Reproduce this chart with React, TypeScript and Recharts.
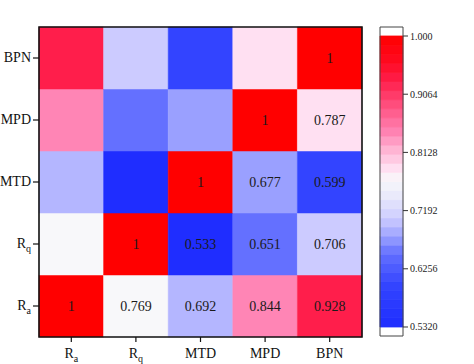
import React from 'react';
import { ScatterChart, Scatter, XAxis, YAxis, ReferenceArea } from 'recharts';

// Variables (bottom-to-top on Y, left-to-right on X)
const varMain = ['R', 'R', 'MTD', 'MPD', 'BPN'];
const varSub = ['a', 'q', '', '', ''];

// Correlation matrix rows (row index = Y position from bottom)
const rowRa = [1, 0.769, 0.692, 0.844, 0.928];
const rowRq = [0.769, 1, 0.533, 0.651, 0.706];
const rowMTD = [0.692, 0.533, 1, 0.677, 0.599];
const rowMPD = [0.844, 0.651, 0.677, 1, 0.787];
const rowBPN = [0.928, 0.706, 0.599, 0.787, 1];
const matrix = [rowRa, rowRq, rowMTD, rowMPD, rowBPN];

// Colour bar
const cbMin = 0.532;
const cbMax = 1.0;
const cbBandCount = 32;
const cbTicks = [0.532, 0.6256, 0.7192, 0.8128, 0.9064, 1.0];
const cbTickLabels = ['0.5320', '0.6256', '0.7192', '0.8128', '0.9064', '1.000'];

// colormap anchors (style)
const cmapStops: [number, string][] = [
  [0.532, '#1f2dff'],
  [0.57, '#2a3aff'],
  [0.599, '#3344ff'],
  [0.651, '#6470ff'],
  [0.677, '#9aa0ff'],
  [0.706, '#cccbff'],
  [0.74, '#e8e8fb'],
  [0.769, '#f8f8fa'],
  [0.787, '#ffe0f2'],
  [0.82, '#ffb0d0'],
  [0.844, '#ff85b5'],
  [0.88, '#ff5a8a'],
  [0.928, '#ff1e4b'],
  [0.96, '#ff0a20'],
  [1.0, '#ff0000'],
];

const hex = (c: string) => [1, 3, 5].map((i) => parseInt(c.slice(i, i + 2), 16));
const cmap = (v: number) => {
  if (v <= cmapStops[0][0]) return cmapStops[0][1];
  for (let i = 1; i < cmapStops.length; i++) {
    const [v1, c1] = cmapStops[i];
    const [v0, c0] = cmapStops[i - 1];
    if (v <= v1) {
      const t = (v - v0) / (v1 - v0);
      const a = hex(c0), b = hex(c1);
      const m = a.map((x, k) => Math.round(x + (b[k] - x) * t));
      return `rgb(${m[0]},${m[1]},${m[2]})`;
    }
  }
  return cmapStops[cmapStops.length - 1][1];
};

const FONT = '"Liberation Serif", "Times New Roman", serif';

const cells = matrix.flatMap((row, r) => row.map((v, c) => ({ r, c, v })));
const labelPoints = cells
  .filter((d) => d.c >= d.r)
  .map((d) => ({ x: d.c + 0.5, y: d.r + 0.5, v: d.v }));

const bandStep = (cbMax - cbMin) / cbBandCount;
const bands = Array.from({ length: cbBandCount }, (_, i) => {
  const lo = cbMin + bandStep * i;
  const hi = cbMin + bandStep * (i + 1);
  return { lo, hi, color: cmap((lo + hi) / 2), x: 0.5, y: (lo + hi) / 2 };
});

const centers = [0.5, 1.5, 2.5, 3.5, 4.5];

const XTick = (props: any) => {
  const { x, y, payload } = props;
  const i = Math.round(payload.value - 0.5);
  return (
    <text x={x} y={y + 14} textAnchor="middle" fontFamily={FONT} fontSize={14} fill="#111">
      <tspan>{varMain[i]}</tspan>
      {varSub[i] ? <tspan dy={4} fontSize={10}>{varSub[i]}</tspan> : null}
    </text>
  );
};

const YTick = (props: any) => {
  const { x, y, payload } = props;
  const i = Math.round(payload.value - 0.5);
  return (
    <text x={x} y={y + 4} textAnchor="end" fontFamily={FONT} fontSize={14} fill="#111">
      <tspan>{varMain[i]}</tspan>
      {varSub[i] ? <tspan dy={4} fontSize={10}>{varSub[i]}</tspan> : null}
    </text>
  );
};

const CellText = (props: any) => {
  const { cx, cy, payload } = props;
  const v = payload.v;
  return (
    <text x={cx} y={cy + 5} textAnchor="middle" fontFamily={FONT} fontSize={14} fill="#1a1a1a">
      {v === 1 ? '1' : v.toFixed(3)}
    </text>
  );
};

const CbTick = (props: any) => {
  const { x, y, payload } = props;
  const idx = cbTicks.findIndex((t) => Math.abs(t - payload.value) < 1e-6);
  return (
    <text x={x} y={y + 3.5} textAnchor="start" fontFamily={FONT} fontSize={10} fill="#222">
      {idx >= 0 ? cbTickLabels[idx] : ''}
    </text>
  );
};

const Empty = () => <g />;

export default function App() {
  return (
    <div style={{ position: 'absolute', left: 0, top: 0, width: 474, height: 364, background: '#fff' }}>
      <div style={{ position: 'absolute', left: 0, top: 0 }}>
        <ScatterChart width={474} height={364} margin={{ top: 27, right: 112, bottom: 5, left: 5 }}>
          <XAxis
            type="number"
            dataKey="x"
            domain={[0, 5]}
            ticks={centers}
            interval={0}
            tick={<XTick />}
            tickSize={5}
            height={22}
            axisLine={false}
            tickLine={{ stroke: '#111', strokeWidth: 1.2 }}
            allowDataOverflow
          />
          <YAxis
            type="number"
            dataKey="y"
            domain={[0, 5]}
            ticks={centers}
            interval={0}
            tick={<YTick />}
            tickSize={6}
            width={34}
            axisLine={false}
            tickLine={{ stroke: '#111', strokeWidth: 1.2 }}
            allowDataOverflow
          />
          {cells.map((d) => (
            <ReferenceArea
              key={`c-${d.r}-${d.c}`}
              x1={d.c}
              x2={d.c + 1}
              y1={d.r}
              y2={d.r + 1}
              fill={cmap(d.v)}
              fillOpacity={1}
              stroke={cmap(d.v)}
              strokeWidth={0.5}
            />
          ))}
          <ReferenceArea x1={0} x2={5} y1={0} y2={5} fill="none" stroke="#111" strokeWidth={1.6} fillOpacity={0} />
          <Scatter data={labelPoints} isAnimationActive={false} shape={<CellText />} />
        </ScatterChart>
      </div>
      <div style={{ position: 'absolute', left: 370, top: 0 }}>
        <ScatterChart width={104} height={364} margin={{ top: 27, right: 0, bottom: 28, left: 10 }}>
          <XAxis type="number" dataKey="x" domain={[0, 1]} ticks={[0, 1]} hide />
          <YAxis
            type="number"
            dataKey="y"
            orientation="right"
            domain={[0.5175, 1.0145]}
            ticks={cbTicks}
            interval={0}
            tick={<CbTick />}
            tickSize={5}
            width={71}
            axisLine={false}
            tickLine={{ stroke: '#333', strokeWidth: 1 }}
            allowDataOverflow
          />
          <ReferenceArea x1={0} x2={1} y1={0.5175} y2={1.0145} fill="#fff" fillOpacity={1} stroke="none" />
          {bands.map((b, i) => (
            <ReferenceArea
              key={`b-${i}`}
              x1={0}
              x2={1}
              y1={b.lo}
              y2={b.hi}
              fill={b.color}
              fillOpacity={1}
              stroke={b.color}
              strokeWidth={0.8}
            />
          ))}
          <ReferenceArea x1={0} x2={1} y1={0.5175} y2={1.0145} fill="none" fillOpacity={0} stroke="#444" strokeWidth={1} />
          <Scatter data={bands} isAnimationActive={false} shape={<Empty />} />
        </ScatterChart>
      </div>
    </div>
  );
}
